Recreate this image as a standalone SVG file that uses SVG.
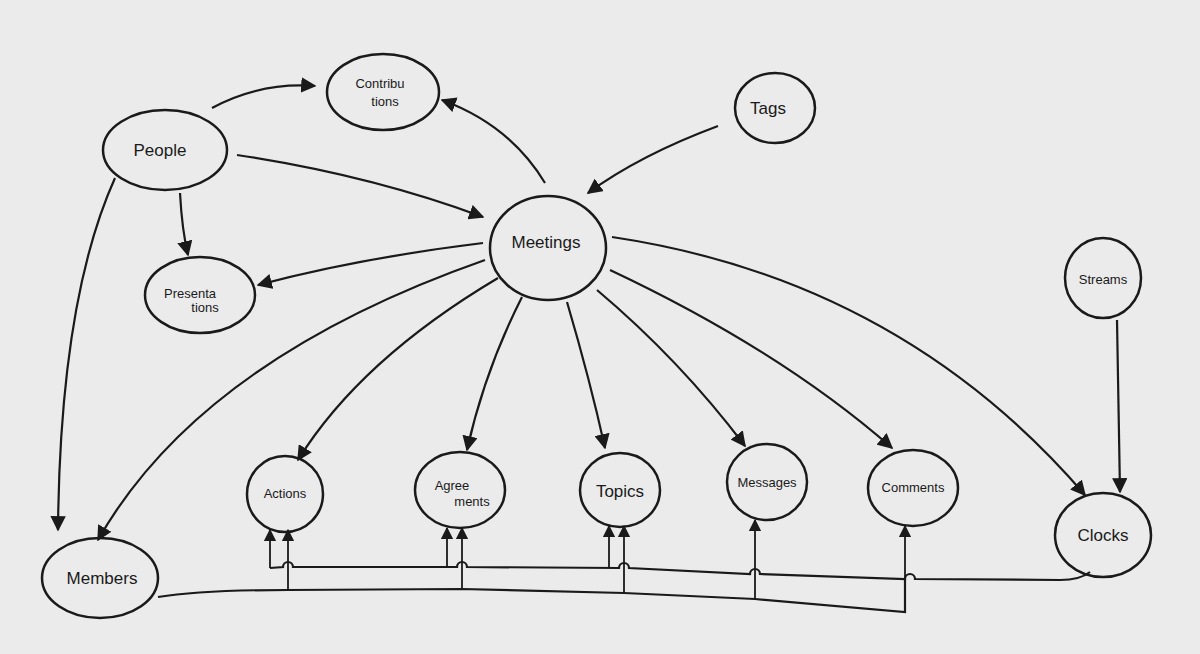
<svg xmlns="http://www.w3.org/2000/svg" width="1200" height="654" viewBox="0 0 1200 654">
<style>
.n{fill:none;stroke:#1a1a1a;stroke-width:2.5}
.t{font-family:"Liberation Sans",sans-serif;font-size:17px;fill:#1a1a1a;text-anchor:middle}
.s{font-size:13px}
.c{fill:none;stroke:#1a1a1a;stroke-width:2.2}
.w{fill:none;stroke:#1a1a1a;stroke-width:1.8}
</style>
<defs>
<marker id="a" viewBox="0 0 10 10" refX="9" refY="5" markerWidth="7" markerHeight="7" orient="auto-start-reverse"><path d="M0,0L10,5L0,10z" fill="#1a1a1a"/></marker>
</defs>
<rect width="1200" height="654" fill="#ebebeb"/>
<g id="people"><ellipse class="n" cx="165" cy="150" rx="62" ry="40"/><text class="t" x="160" y="156">People</text></g>
<g id="contributions"><ellipse class="n" cx="383" cy="92" rx="56" ry="38"/><text class="t s" x="380" y="88">Contribu</text><text class="t s" x="385" y="106">tions</text></g>
<g id="tags"><ellipse class="n" cx="775" cy="108" rx="40" ry="35"/><text class="t" x="768" y="114">Tags</text></g>
<g id="meetings"><ellipse class="n" cx="548" cy="248" rx="58" ry="52"/><text class="t" x="546" y="248">Meetings</text></g>
<g id="presentations"><ellipse class="n" cx="200" cy="295" rx="55" ry="38"/><text class="t s" x="190" y="298">Presenta</text><text class="t s" x="205" y="312">tions</text></g>
<g id="streams"><ellipse class="n" cx="1103" cy="278" rx="38" ry="40"/><text class="t s" x="1103" y="284">Streams</text></g>
<g id="actions"><ellipse class="n" cx="285" cy="494" rx="38" ry="38"/><text class="t s" x="285" y="498">Actions</text></g>
<g id="agreements"><ellipse class="n" cx="460" cy="490" rx="45" ry="38"/><text class="t s" x="452" y="490">Agree</text><text class="t s" x="472" y="506">ments</text></g>
<g id="topics"><ellipse class="n" cx="620" cy="490" rx="40" ry="37"/><text class="t" x="620" y="497">Topics</text></g>
<g id="messages"><ellipse class="n" cx="767" cy="482" rx="40" ry="38"/><text class="t s" x="767" y="487">Messages</text></g>
<g id="comments"><ellipse class="n" cx="913" cy="488" rx="45" ry="38"/><text class="t s" x="913" y="492">Comments</text></g>
<g id="clocks"><ellipse class="n" cx="1103" cy="535" rx="48" ry="42"/><text class="t" x="1103" y="541">Clocks</text></g>
<g id="members"><ellipse class="n" cx="100" cy="578" rx="58" ry="40"/><text class="t" x="102" y="584">Members</text></g>
<g id="connectors">
<path class="c" marker-end="url(#a)" d="M212,108 Q260,82 315,86"/>
<path class="c" marker-end="url(#a)" d="M237,155 Q370,175 483,217"/>
<path class="c" marker-end="url(#a)" d="M180,193 Q182,230 188,255"/>
<path class="c" marker-end="url(#a)" d="M115,178 Q60,300 58,530"/>
<path class="c" marker-end="url(#a)" d="M545,183 Q510,125 442,100"/>
<path class="c" marker-end="url(#a)" d="M718,126 Q640,155 588,193"/>
<path class="c" marker-end="url(#a)" d="M483,243 Q360,258 258,285"/>
<path class="c" marker-end="url(#a)" d="M485,260 Q200,360 98,540"/>
<path class="c" marker-end="url(#a)" d="M498,278 Q360,360 298,460"/>
<path class="c" marker-end="url(#a)" d="M522,297 Q485,370 467,450"/>
<path class="c" marker-end="url(#a)" d="M567,302 Q590,380 605,448"/>
<path class="c" marker-end="url(#a)" d="M597,290 Q680,360 745,446"/>
<path class="c" marker-end="url(#a)" d="M610,270 Q780,350 892,448"/>
<path class="c" marker-end="url(#a)" d="M612,237 Q900,280 1085,495"/>
<path class="c" marker-end="url(#a)" d="M1117,320 L1120,492"/>
<path class="c" d="M1090,572 Q1080,580 1060,580 L915,579 a5,5 0 0 0 -10,0 L760,574 a5,5 0 0 0 -10,0 L629,568 a5,5 0 0 0 -10,0 L467,567 a5,5 0 0 0 -10,0 L293,567 a5,5 0 0 0 -10,0 L270,568"/>
<path class="w" marker-end="url(#a)" d="M270,568 L270,530"/>
<path class="w" marker-end="url(#a)" d="M447,567 L447,528"/>
<path class="w" marker-end="url(#a)" d="M609,568 L609,526"/>
<path class="c" d="M158,597 Q200,590 288,590 L462,589 L624,593 L755,599 L905,612 L905,579"/>
<path class="w" marker-end="url(#a)" d="M288,590 L288,530"/>
<path class="w" marker-end="url(#a)" d="M462,589 L462,528"/>
<path class="w" marker-end="url(#a)" d="M624,593 L624,526"/>
<path class="w" marker-end="url(#a)" d="M755,599 L755,520"/>
<path class="w" marker-end="url(#a)" d="M905,579 L905,526"/>
</g>
</svg>
